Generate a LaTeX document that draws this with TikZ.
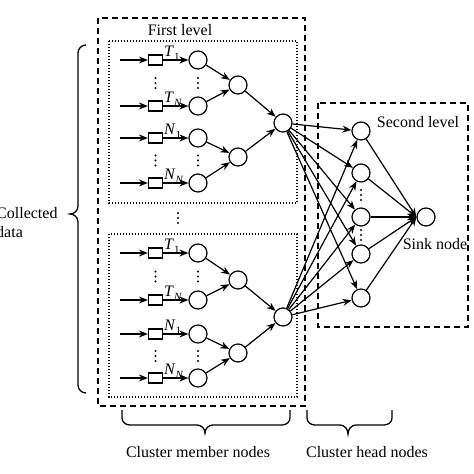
\documentclass[tikz,border=0pt]{standalone}
\usepackage{fontspec}
\setmainfont{Liberation Serif}
\usetikzlibrary{arrows.meta}
\newcommand\mylab[2]{\textit{#1}\raisebox{-4pt}{\fontsize{11}{11}\selectfont #2}}
\newcommand\vdts[1]{\fill (#1) ++(0,-5) circle (1.1pt) ++(0,5) circle (1.1pt) ++(0,5) circle (1.1pt);}
\begin{document}
\begin{tikzpicture}[x=1pt,y=-1pt,
  txt/.style={font=\fontsize{16}{19}\selectfont, inner sep=0pt},
  neuron/.style={circle,draw,line width=1.2pt,minimum size=18pt,inner sep=0pt},
  sq/.style={rectangle,draw,line width=1.2pt,minimum width=14pt,minimum height=10pt,inner sep=0pt},
  arr/.style={line width=1.2pt,-{Stealth[length=9pt,width=7pt]}},
  dotbox/.style={line width=1.6pt, dash pattern=on 1.2pt off 1.8pt},
  dashbox/.style={line width=1.5pt, dash pattern=on 6pt off 4pt},
  brc/.style={line width=1.3pt}
]
\useasboundingbox (0,0) rectangle (474,474);

% boxes
\draw[dashbox] (98,18) rectangle (305,406);
\draw[dashbox] (318,103) rectangle (468,327);
\draw[dotbox] (109,41) rectangle (297,203);
\draw[dotbox] (109,234) rectangle (297,397);

\node[txt] (first) at (180,30) {First level};
\node[txt] (second) at (418,122) {Second level};

% first-level groups
\foreach \g/\ya/\yb/\yc/\yd/\ye/\yf/\yh in {u/60/106/138/183/85/157/123, l/253/300/334/378/280/353/317} {
  \node[neuron] (\g m1) at (238,\ye) {};
  \node[neuron] (\g m2) at (238,\yf) {};
  \node[neuron] (\g h) at (283,\yh) {};
  \foreach \i/\y/\L/\S in {1/\ya/T/1, 2/\yb/T/\textit{N}, 3/\yc/N/1, 4/\yd/N/\textit{N}} {
    \coordinate (\g in\i) at (120,\y);
    \node[sq] (\g s\i) at (155.5,\y) {};
    \node[neuron] (\g c\i) at (198,\y) {};
    \node[txt, anchor=base west] (\g t\i) at (164,\y-4) {\mylab{\L}{\S}};
    \draw[arr] (\g in\i) -- (\g s\i);
    \draw[arr] (\g s\i) -- (\g c\i);
  }
  \coordinate (\g da) at (155.5,{(\ya+\yb)/2});
  \coordinate (\g db) at (198,{(\ya+\yb)/2});
  \coordinate (\g dc) at (155.5,{(\yc+\yd)/2});
  \coordinate (\g dd) at (198,{(\yc+\yd)/2});
  \vdts{\g da}\vdts{\g db}\vdts{\g dc}\vdts{\g dd}
  \draw[arr] (\g c1) -- (\g m1);
  \draw[arr] (\g c2) -- (\g m1);
  \draw[arr] (\g c3) -- (\g m2);
  \draw[arr] (\g c4) -- (\g m2);
  \draw[arr] (\g m1) -- (\g h);
  \draw[arr] (\g m2) -- (\g h);
}
\coordinate (middots) at (178,218);
\vdts{middots}

% second level
\foreach \k/\y in {1/131,2/173,3/217,4/254,5/298} {
  \node[neuron] (s\k) at (361,\y) {};
}
\node[neuron] (sink) at (426,217) {};
\coordinate (sd1) at (361,195);
\coordinate (sd2) at (361,235);
\vdts{sd1}\vdts{sd2}
\foreach \g in {u,l} {
  \foreach \k in {1,...,5} {
    \draw[arr] (\g h) -- (s\k);
  }
}
\foreach \k in {1,...,5} {
  \draw[arr] (s\k) -- (sink.west);
}
\node[txt] (sinklab) at (435,244) {Sink node};

% collected data brace
\draw[brc] (86,45) to[out=180,in=90] (78,53) -- (78,206) to[out=-90,in=0] (70,214)
  to[out=0,in=90] (78,222) -- (78,385) to[out=-90,in=180] (86,393);
\node[txt, anchor=west, align=left] (coll) at (-4,223) {Collected\\data};

% bottom braces
\draw[brc] (122,410) -- (122,418) to[out=-90,in=180] (130,425) -- (197,425)
  to[out=0,in=90] (205,433) to[out=90,in=180] (213,425) -- (282,425)
  to[out=0,in=-90] (290,418) -- (290,410);
\draw[brc] (307,410) -- (307,418) to[out=-90,in=180] (315,425) -- (340,425)
  to[out=0,in=90] (348,434) to[out=90,in=180] (356,425) -- (384,425)
  to[out=0,in=-90] (392,418) -- (392,410);
\node[txt] (cmn) at (198,452) {Cluster member nodes};
\node[txt] (chn) at (367,452) {Cluster head nodes};
\end{tikzpicture}
\end{document}
